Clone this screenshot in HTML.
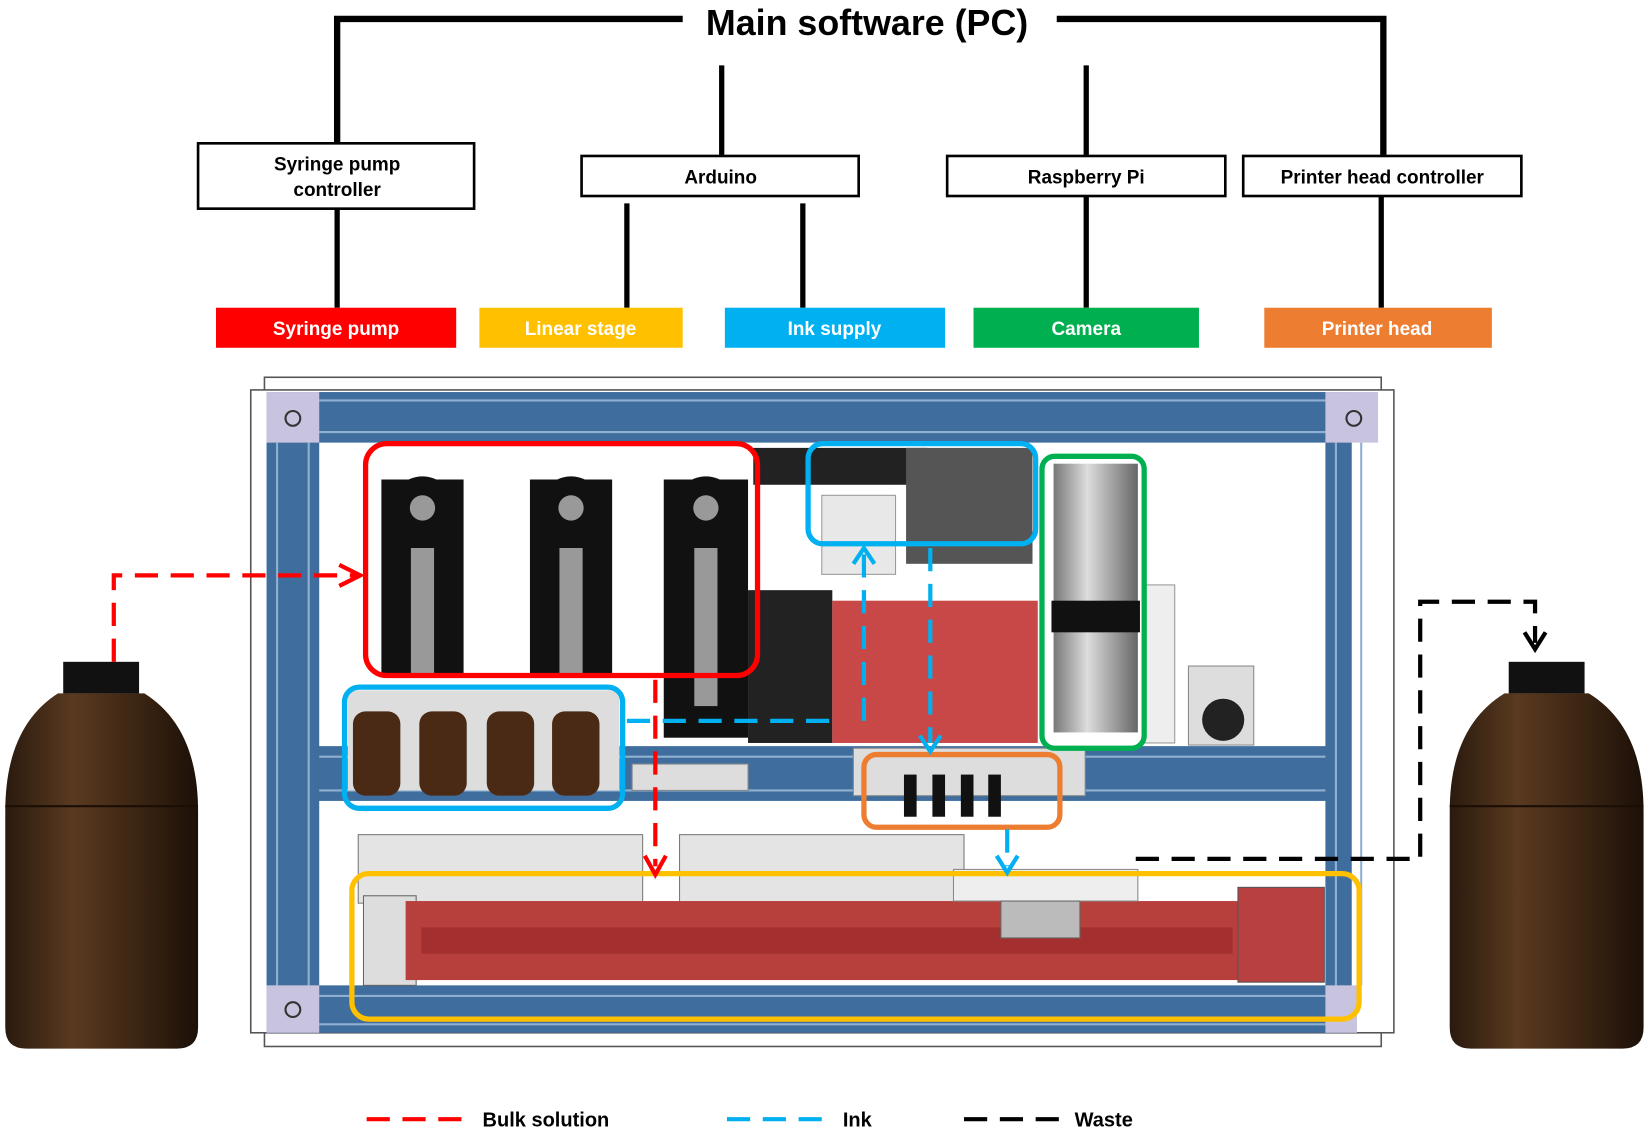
<!DOCTYPE html>
<html><head><meta charset="utf-8"><style>html,body{margin:0;padding:0;background:#fff}svg{display:block}</style></head>
<body>
<svg width="1652" height="1135" viewBox="0 0 1568 1077" preserveAspectRatio="none" xmlns="http://www.w3.org/2000/svg" font-family="Liberation Sans, sans-serif" font-weight="bold">
<defs>
<linearGradient id="bt" x1="0" x2="1"><stop offset="0" stop-color="#2a1a0e"/><stop offset="0.35" stop-color="#5a3a20"/><stop offset="0.7" stop-color="#3a2412"/><stop offset="1" stop-color="#1c1008"/></linearGradient>
<linearGradient id="cy" x1="0" x2="1"><stop offset="0" stop-color="#777"/><stop offset="0.4" stop-color="#ddd"/><stop offset="1" stop-color="#666"/></linearGradient>
</defs>
<text x="823" y="33" font-size="34" text-anchor="middle">Main software (PC)</text>
<g stroke="#000" fill="none">
<path d="M320 135 V18 H648" stroke-width="6"/>
<path d="M1003 18 H1313 V147" stroke-width="6"/>
<path d="M685 62 V147 M1031 62 V147" stroke-width="5"/>
<path d="M320 198 V292 M595 193 V292 M762 193 V292 M1031 186 V292 M1311 186 V292" stroke-width="5"/>
<rect x="188" y="136" width="262" height="62" stroke-width="2.5" fill="#fff"/>
<rect x="552" y="148" width="263" height="38" stroke-width="2.5" fill="#fff"/>
<rect x="899" y="148" width="264" height="38" stroke-width="2.5" fill="#fff"/>
<rect x="1180" y="148" width="264" height="38" stroke-width="2.5" fill="#fff"/>
</g>
<g font-size="18" text-anchor="middle">
<text x="320" y="162">Syringe pump</text><text x="320" y="186">controller</text>
<text x="684" y="174">Arduino</text><text x="1031" y="174">Raspberry Pi</text><text x="1312" y="174">Printer head controller</text>
</g>
<rect x="205" y="292" width="228" height="38" fill="#f00"/>
<rect x="455" y="292" width="193" height="38" fill="#ffc000"/>
<rect x="688" y="292" width="209" height="38" fill="#00b0f0"/>
<rect x="924" y="292" width="214" height="38" fill="#00b050"/>
<rect x="1200" y="292" width="216" height="38" fill="#ed7d31"/>
<g font-size="18" text-anchor="middle" fill="#fff">
<text x="319" y="318">Syringe pump</text><text x="551" y="318">Linear stage</text><text x="792" y="318">Ink supply</text><text x="1031" y="318">Camera</text><text x="1307" y="318">Printer head</text>
</g>
<rect x="251" y="358" width="1060" height="635" fill="none" stroke="#555" stroke-width="1.5"/>
<rect x="238" y="370" width="1085" height="610" fill="#fff" stroke="#555" stroke-width="1.5"/>
<rect x="253" y="372" width="1030" height="608" fill="#3f6e9e"/>
<rect x="303" y="420" width="955" height="288" fill="#fff"/>
<rect x="303" y="760" width="955" height="175" fill="#fff"/>
<path d="M303 380 H1258 M303 410 H1258 M303 718 H1258 M303 750 H1258 M303 945 H1258 M303 972 H1258 M263 420 V935 M293 420 V935 M1268 420 V935 M1292 420 V935" stroke="#8fb0d0" stroke-width="2"/>
<g fill="#c8c4e0"><rect x="253" y="372" width="50" height="48"/><rect x="1258" y="372" width="50" height="48"/><rect x="253" y="935" width="50" height="45"/><rect x="1258" y="935" width="30" height="45"/></g>
<g fill="none" stroke="#333" stroke-width="2"><circle cx="278" cy="397" r="7"/><circle cx="1285" cy="397" r="7"/><circle cx="278" cy="958" r="7"/></g>
<g fill="#111"><rect x="362" y="455" width="78" height="185"/><rect x="503" y="455" width="78" height="185"/><rect x="630" y="455" width="80" height="245"/>
<circle cx="401" cy="482" r="30"/><circle cx="542" cy="482" r="30"/><circle cx="670" cy="482" r="30"/></g>
<g fill="#999"><circle cx="401" cy="482" r="12"/><circle cx="542" cy="482" r="12"/><circle cx="670" cy="482" r="12"/>
<rect x="390" y="520" width="22" height="120"/><rect x="531" y="520" width="22" height="120"/><rect x="659" y="520" width="22" height="150"/></g>
<rect x="710" y="560" width="80" height="145" fill="#222"/>
<rect x="790" y="570" width="195" height="135" fill="#c84848"/>
<rect x="715" y="425" width="165" height="35" fill="#222"/>
<rect x="860" y="425" width="120" height="110" fill="#555"/>
<rect x="780" y="470" width="70" height="75" fill="#e8e8e8" stroke="#999"/>
<rect x="1000" y="440" width="80" height="255" fill="url(#cy)"/>
<rect x="998" y="570" width="84" height="30" fill="#111"/>
<rect x="1085" y="555" width="30" height="150" fill="#eee" stroke="#999"/>
<rect x="1128" y="632" width="62" height="75" fill="#ddd" stroke="#888"/><circle cx="1161" cy="683" r="20" fill="#222"/>
<rect x="330" y="655" width="258" height="95" fill="#ddd"/>
<g fill="#4a2a14"><rect x="335" y="675" width="45" height="80" rx="12"/><rect x="398" y="675" width="45" height="80" rx="12"/><rect x="462" y="675" width="45" height="80" rx="12"/><rect x="524" y="675" width="45" height="80" rx="12"/></g>
<rect x="600" y="725" width="110" height="25" fill="#ddd" stroke="#888"/>
<rect x="810" y="710" width="220" height="45" fill="#ddd" stroke="#888"/>
<g fill="#111"><rect x="858" y="735" width="12" height="40"/><rect x="885" y="735" width="12" height="40"/><rect x="912" y="735" width="12" height="40"/><rect x="938" y="735" width="12" height="40"/></g>
<rect x="340" y="792" width="270" height="65" fill="#e4e4e4" stroke="#777"/>
<rect x="645" y="792" width="270" height="65" fill="#e4e4e4" stroke="#777"/>
<rect x="345" y="850" width="50" height="85" fill="#ddd" stroke="#666"/>
<rect x="385" y="855" width="790" height="75" fill="#b8403c"/>
<rect x="400" y="880" width="770" height="25" fill="#a3302e"/>
<rect x="1175" y="842" width="82" height="90" fill="#b84040" stroke="#555"/>
<rect x="905" y="825" width="175" height="30" fill="#eee" stroke="#888"/>
<rect x="950" y="855" width="75" height="35" fill="#bbb" stroke="#666"/>
<g fill="none" stroke-width="5">
<rect x="347" y="421" width="372" height="220" rx="20" stroke="#f00"/>
<rect x="767" y="421" width="216" height="95" rx="14" stroke="#00b0f0"/>
<rect x="989" y="433" width="97" height="277" rx="12" stroke="#00b050"/>
<rect x="327" y="652" width="264" height="115" rx="14" stroke="#00b0f0"/>
<rect x="820" y="716" width="186" height="69" rx="12" stroke="#ed7d31"/>
<rect x="334" y="829" width="956" height="138" rx="16" stroke="#ffc000"/>
</g>
<g>
<rect x="60" y="628" width="72" height="30" fill="#111"/>
<path d="M55 658 H137 Q188 690 188 770 V975 Q188 995 168 995 H25 Q5 995 5 975 V770 Q5 690 55 658Z" fill="url(#bt)"/>
<line x1="5" y1="765" x2="188" y2="765" stroke="#1a0e05" stroke-width="2"/>
<rect x="1432" y="628" width="72" height="30" fill="#111"/>
<path d="M1428 658 H1508 Q1560 690 1560 770 V975 Q1560 995 1540 995 H1396 Q1376 995 1376 975 V770 Q1376 690 1428 658Z" fill="url(#bt)"/>
<line x1="1376" y1="765" x2="1560" y2="765" stroke="#1a0e05" stroke-width="2"/>
</g>
<g fill="none" stroke-width="4" stroke-dasharray="22 12">
<path d="M108 628 V546 H340" stroke="#f00"/>
<path d="M622 645 V822" stroke="#f00"/>
<path d="M595 684 H790" stroke="#00b0f0"/>
<path d="M820 684 V525" stroke="#00b0f0"/>
<path d="M883 520 V705" stroke="#00b0f0"/>
<path d="M956 787 V822" stroke="#00b0f0"/>
<path d="M1078 815 H1348 V571 H1457 V610" stroke="#000"/>
</g>
<g fill="none" stroke-width="4">
<path d="M322 536 L342 546 L322 556" stroke="#f00"/>
<path d="M612 812 L622 830 L632 812" stroke="#f00"/>
<path d="M810 535 L820 520 L830 535" stroke="#00b0f0"/>
<path d="M873 698 L883 713 L893 698" stroke="#00b0f0"/>
<path d="M946 812 L956 828 L966 812" stroke="#00b0f0"/>
<path d="M1447 600 L1457 616 L1467 600" stroke="#000"/>
</g>
<g stroke-width="4"><path d="M348 1062 H440" stroke="#f00" stroke-dasharray="22 12"/><path d="M690 1062 H782" stroke="#00b0f0" stroke-dasharray="22 12"/><path d="M915 1062 H1007" stroke="#000" stroke-dasharray="22 12"/></g>
<g font-size="19"><text x="458" y="1069">Bulk solution</text><text x="800" y="1069">Ink</text><text x="1020" y="1069">Waste</text></g>
</svg>
</body></html>
